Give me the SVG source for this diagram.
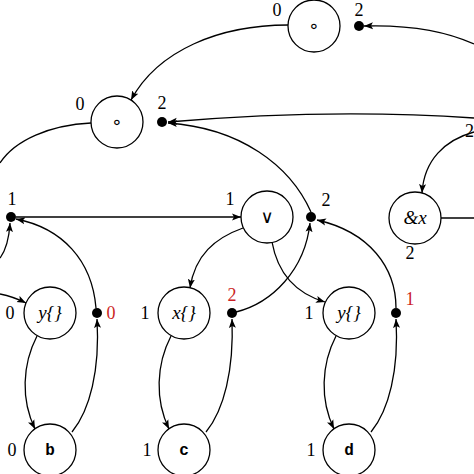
<svg xmlns="http://www.w3.org/2000/svg" width="474" height="474" viewBox="0 0 474 474">
<defs>
<marker id="ah" markerUnits="userSpaceOnUse" markerWidth="10" markerHeight="8" refX="9" refY="4" orient="auto">
<path d="M0,0.5 L9,4 L0,7.5 L2,4 z" fill="#000"/>
</marker>
<style>
.n{fill:#fff;stroke:#000;stroke-width:1.3}
.e{fill:none;stroke:#000;stroke-width:1.3}
.a{marker-end:url(#ah)}
.d{fill:#000}
.l{font-family:"Liberation Serif","DejaVu Serif",serif;font-size:18px;text-anchor:middle;fill:#000}
.r{fill:#cc1f24}
.m{font-family:"Liberation Serif","DejaVu Serif",serif;font-style:italic;font-size:19px;text-anchor:middle}
.t{font-family:"Liberation Mono","DejaVu Sans Mono",monospace;font-weight:bold;font-size:16px;text-anchor:middle}
.s{font-family:"DejaVu Sans","Liberation Sans",sans-serif;font-size:18px;text-anchor:middle}
</style>
</defs>
<g id="connectors">
<path class="e a" d="M474,44 Q430,24 364,26"/>
<path class="e a" d="M288,25 C220,25 158,50 131,100"/>
<path class="e" d="M91,123 C50,125 15,140 0,163"/>
<path class="e a" d="M474,118 Q330,108 168,122"/>
<path class="e a" d="M311,212 C290,165 240,128 168,123"/>
<path class="e a" d="M474,132 C445,140 424,160 422,193"/>
<path class="e" d="M441,218 L474,218"/>
<path class="e a" d="M16,217 L241,217"/>
<path class="e a" d="M0,258 C6,250 9,240 10,223"/>
<path class="e a" d="M96,308 C92,260 62,228 16,219"/>
<path class="e a" d="M243,228 C215,238 195,255 190,288"/>
<path class="e a" d="M272,242 C278,275 298,294 325,302"/>
<path class="e a" d="M236,312 C272,303 305,270 310,223"/>
<path class="e a" d="M396,308 C396,268 370,232 317,220"/>
<path class="e a" d="M0,294 C10,296 18,299 26,303"/>
<path class="e a" d="M37,336 C22,365 21,400 35,429"/>
<path class="e a" d="M72,432 C90,410 100,370 97,319"/>
<path class="e a" d="M171,336 C156,365 155,400 169,429"/>
<path class="e a" d="M206,432 C224,410 234,370 232,319"/>
<path class="e a" d="M336,336 C321,365 320,400 334,429"/>
<path class="e a" d="M371,432 C389,410 399,370 396,319"/>
</g>
<g id="n_top"><circle class="n" cx="314" cy="26" r="26"/><text class="s" x="314" y="32">∘</text></g>
<g id="n_top_l"><text class="l" x="277" y="16">0</text><text class="l" x="359" y="16">2</text><circle class="d" cx="359" cy="26" r="5"/></g>
<g id="n_mid"><circle class="n" cx="117" cy="122" r="26"/><text class="s" x="117" y="128">∘</text></g>
<g id="n_mid_l"><text class="l" x="80" y="110">0</text><text class="l" x="162" y="109">2</text><circle class="d" cx="162" cy="122" r="5"/></g>
<g id="n_right_l"><text class="l" x="474" y="137" style="text-anchor:end">2</text></g>
<g id="n_and"><circle class="n" cx="415" cy="218" r="26"/><text class="m" x="415" y="224">&amp;x</text><text class="l" x="410" y="259">2</text></g>
<g id="p_left"><circle class="d" cx="11" cy="217" r="5"/><text class="l" x="12" y="205">1</text></g>
<g id="n_or"><circle class="n" cx="267" cy="217" r="26"/><text class="s" x="267" y="223">∨</text><text class="l" x="230" y="205">1</text></g>
<g id="p_or"><circle class="d" cx="311" cy="217" r="5"/><text class="l" x="326" y="206">2</text></g>
<g id="n_y1"><circle class="n" cx="50" cy="313" r="26"/><text class="m" x="50" y="319">y{}</text><text class="l" x="10" y="319">0</text></g>
<g id="p_y1"><circle class="d" cx="97" cy="313" r="5"/><text class="l r" x="111" y="319">0</text></g>
<g id="n_b"><circle class="n" cx="50" cy="450" r="26"/><text class="t" x="50" y="455">b</text><text class="l" x="12" y="456">0</text></g>
<g id="n_x"><circle class="n" cx="184" cy="313" r="26"/><text class="m" x="184" y="319">x{}</text><text class="l" x="145" y="319">1</text></g>
<g id="p_x"><circle class="d" cx="232" cy="313" r="5"/><text class="l r" x="232" y="301">2</text></g>
<g id="n_c"><circle class="n" cx="184" cy="450" r="26"/><text class="t" x="184" y="455">c</text><text class="l" x="147" y="456">1</text></g>
<g id="n_y2"><circle class="n" cx="349" cy="313" r="26"/><text class="m" x="349" y="319">y{}</text><text class="l" x="309" y="319">1</text></g>
<g id="p_y2"><circle class="d" cx="396" cy="313" r="5"/><text class="l r" x="410" y="305">1</text></g>
<g id="n_d"><circle class="n" cx="349" cy="450" r="26"/><text class="t" x="349" y="455">d</text><text class="l" x="311" y="456">1</text></g>
</svg>
